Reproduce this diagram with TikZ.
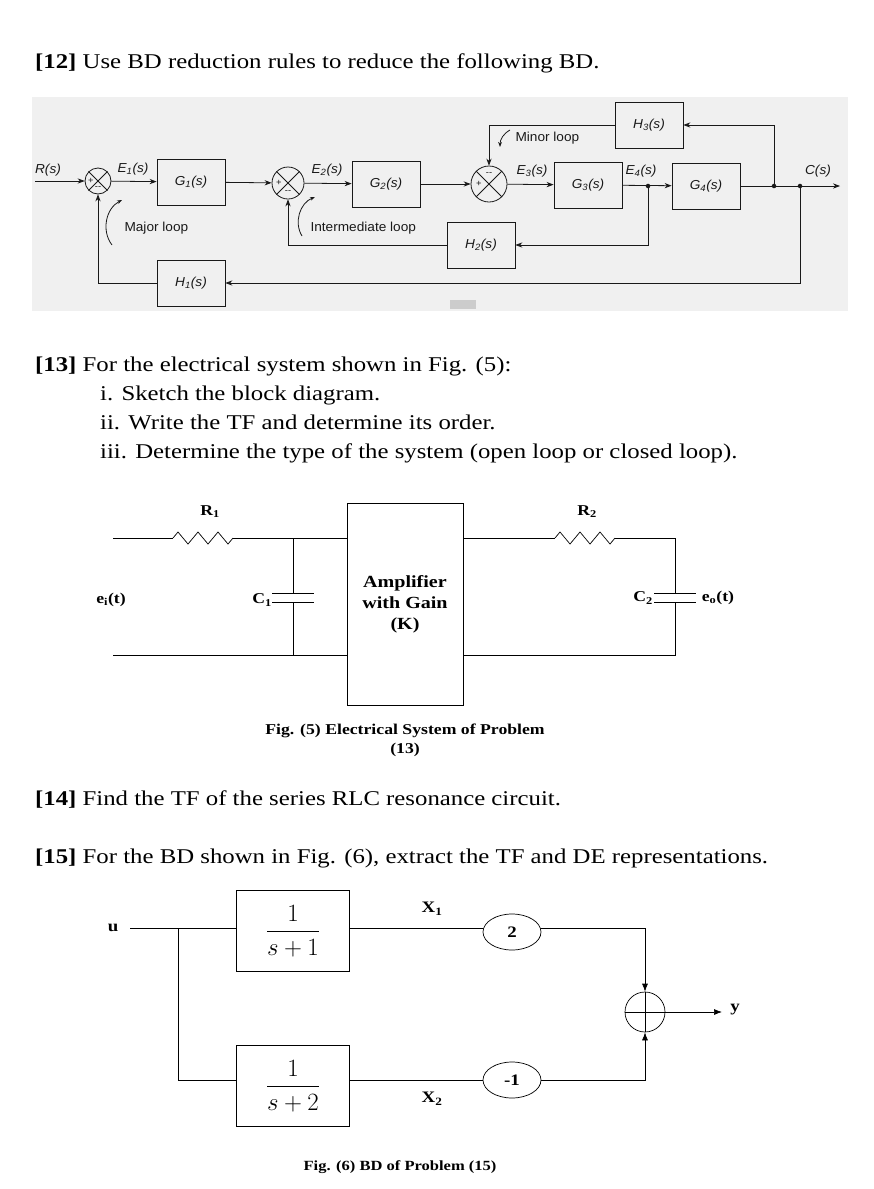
\documentclass[tikz,border=0pt]{standalone}
\usepackage{fontspec}
\setmainfont[FakeStretch=1.18]{Liberation Serif}
\newfontfamily\bdsans[FakeStretch=1.05]{Liberation Sans}
\usepackage{amsmath}
\usetikzlibrary{arrows.meta,positioning,shapes.geometric}
\tikzset{
  blk/.style={draw,thick,minimum width=68pt,minimum height=46pt,font=\bdsans\fontsize{13}{14}\selectfont\itshape},
  sumj/.style={draw,thick,circle,minimum size=30pt,inner sep=0pt},
  lbl/.style={font=\bdsans\fontsize{13}{14}\selectfont\itshape},
  sgn/.style={font=\bdsans\fontsize{9}{9}\selectfont,inner sep=0pt},
  sig/.style={thick,-{Stealth[length=7pt]}},
  dot/.style={circle,fill,inner sep=1.6pt},
  wire/.style={line width=0.7pt},
  cblk/.style={draw,line width=0.8pt,minimum width=113pt,minimum height=81pt},
  txt/.style={font=\fontsize{21}{24}\selectfont,anchor=base west,inner sep=0pt},
}
\newcommand{\zigzag}[3]{% x-start, x-end, y
  \draw[wire] (#1,#3) -- ++(5,-6) -- ++(10,12) -- ++(10,-12) -- ++(10,12) -- ++(10,-12) -- ++(10,12) -- (#2,#3);}
\begin{document}
\begin{tikzpicture}[x=1pt,y=-1pt]
\useasboundingbox (0,0) rectangle (874,1189);
\fill[white] (0,0) rectangle (874,1189);

% problem 12
\node[txt] at (35,68) {\textbf{[12]} Use BD reduction rules to reduce the following BD.};
\fill[gray!12] (32,97) rectangle (848,311);
\begin{scope}[gray!20!black]
\node[sumj,minimum size=26pt] (s1) at (98,181) {};
\node[blk] (g1) at (191,182) {G\textsubscript{1}(s)};
\node[sumj,minimum size=32pt] (s2) at (288,183) {};
\node[blk] (g2) at (386,184) {G\textsubscript{2}(s)};
\node[sumj,minimum size=36pt] (s3) at (489,184) {};
\node[blk] (g3) at (588,185) {G\textsubscript{3}(s)};
\node[blk] (g4) at (706,186) {G\textsubscript{4}(s)};
\node[blk] (h3) at (649,125) {H\textsubscript{3}(s)};
\node[blk] (h2) at (481,245) {H\textsubscript{2}(s)};
\node[blk] (h1) at (191,283) {H\textsubscript{1}(s)};
\foreach \s in {s1,s2,s3}{
  \draw[thick] (\s.north west) -- (\s.south east) (\s.north east) -- (\s.south west);}
\node[sgn] at ([xshift=-7pt]s1.center) {+};
\node[sgn] at ([yshift=-7pt]s1.center) {--};
\node[sgn] at ([xshift=-9pt]s2.center) {+};
\node[sgn] at ([yshift=-9pt]s2.center) {--};
\node[sgn] at ([xshift=-10pt]s3.center) {+};
\node[sgn] at ([yshift=10pt]s3.center) {--};
\coordinate (rin) at (35,181);
\coordinate (j4) at (648,186);
\coordinate (j3) at (774,186);
\coordinate (j1) at (800,186);
\coordinate (cout) at (840,186);
\node[dot] at (j4) {};
\node[dot] at (j3) {};
\node[dot] at (j1) {};
\draw[sig] (rin) -- (s1);
\draw[sig] (s1) -- (g1);
\draw[sig] (g1) -- (s2);
\draw[sig] (s2) -- (g2);
\draw[sig] (g2) -- (s3);
\draw[sig] (s3) -- (g3);
\draw[sig] (g3) -- (g4);
\draw[sig] (g4) -- (cout);
\draw[sig] (j3) |- (h3);
\draw[sig] (h3) -| (s3);
\draw[sig] (j4) |- (h2);
\draw[sig] (h2.west) -| (s2);
\draw[sig] (j1) |- (h1);
\draw[sig] (h1) -| (s1);
\node[lbl] at (48,170) {R(s)};
\node[lbl] at (133,169) {E\textsubscript{1}(s)};
\node[lbl] at (327,170) {E\textsubscript{2}(s)};
\node[lbl] at (532,171) {E\textsubscript{3}(s)};
\node[lbl] at (641,171) {E\textsubscript{4}(s)};
\node[lbl] at (818,171) {C(s)};
\node[lbl,font=\bdsans\fontsize{13}{14}\selectfont,anchor=west] at (121,228) {Major loop};
\node[lbl,font=\bdsans\fontsize{13}{14}\selectfont,anchor=west] at (307,228) {Intermediate loop};
\node[lbl,font=\bdsans\fontsize{13}{14}\selectfont,anchor=west] at (512,138) {Minor loop};
\draw[thick,-{Stealth[length=5pt]}] (112,245) to[bend left=50] (122,200);
\draw[thick,-{Stealth[length=5pt]}] (302,236) to[bend left=50] (315,197);
\draw[thick,-{Stealth[length=5pt]}] (510,130) to[bend right=30] (500,147);
\end{scope}
\fill[gray!40] (450,300) rectangle (476,309);

% problem 13
\node[txt] at (35,371) {\textbf{[13]} For the electrical system shown in Fig. (5):};
\node[txt] at (100,400) {i. Sketch the block diagram.};
\node[txt] at (100,429) {ii. Write the TF and determine its order.};
\node[txt] at (100,458) {iii. Determine the type of the system (open loop or closed loop).};

\node[draw,line width=0.8pt,minimum width=116pt,minimum height=202pt,
      font=\bfseries\fontsize{17}{21}\selectfont,align=center] (amp) at (405,604)
      {Amplifier\\with Gain\\(K)};
\coordinate (a1) at (113,538);
\coordinate (a2) at (113,655);
\zigzag{173}{233}{538}
\draw[wire] (a1) -- (173,538);
\draw[wire] (233,538) -- (amp.west |- a1);
\draw[wire] (a2) -- (amp.west |- a2);
\draw[wire] (293,538) -- (293,593) (272,593) -- (314,593)
            (272,602) -- (314,602) (293,602) -- (293,655);
\zigzag{555}{615}{538}
\draw[wire] (amp.east |- a1) -- (555,538);
\draw[wire] (615,538) -- (675,538) -- (675,593) (654,593) -- (696,593)
            (654,602) -- (696,602) (675,602) -- (675,655) -- (amp.east |- a2);
\begin{scope}[font=\bfseries\fontsize{15}{17}\selectfont]
\node at (210,512) {R\textsubscript{1}};
\node at (587,512) {R\textsubscript{2}};
\node at (262,600) {C\textsubscript{1}};
\node at (643,598) {C\textsubscript{2}};
\node at (111,600) {e\textsubscript{i}(t)};
\node at (718,598) {e\textsubscript{o}(t)};
\end{scope}
\node[font=\bfseries\fontsize{15}{19}\selectfont,align=center] at (405,740)
  {Fig. (5) Electrical System of Problem\\(13)};

% problems 14 and 15
\node[txt] at (35,805) {\textbf{[14]} Find the TF of the series RLC resonance circuit.};
\node[txt] at (35,863) {\textbf{[15]} For the BD shown in Fig. (6), extract the TF and DE representations.};

\node[cblk,font=\fontsize{23}{25}\selectfont] (b1) at (293,931) {$\dfrac{1}{s+1}$};
\node[cblk,font=\fontsize{23}{25}\selectfont] (b2) at (293,1086) {$\dfrac{1}{s+2}$};
\node[draw,wire,ellipse,minimum width=58pt,minimum height=36pt,font=\bfseries\fontsize{16}{18}\selectfont] (k1) at (512,932) {2};
\node[draw,wire,ellipse,minimum width=58pt,minimum height=36pt,font=\bfseries\fontsize{16}{18}\selectfont] (k2) at (512,1080) {-1};
\node[draw,wire,circle,minimum size=40pt,inner sep=0pt] (sy) at (645,1012) {};
\draw[wire] (sy.north) -- (sy.south) (sy.west) -- (sy.east);
\coordinate (uin) at (130,928);
\coordinate (yout) at (722,1012);
\coordinate (br) at (178,928);
\node[font=\bfseries\fontsize{16}{18}\selectfont] at (113,928) {u};
\node[font=\bfseries\fontsize{16}{18}\selectfont] at (735,1010) {y};
\node[font=\bfseries\fontsize{16}{18}\selectfont] at (432,909) {X\textsubscript{1}};
\node[font=\bfseries\fontsize{16}{18}\selectfont] at (432,1099) {X\textsubscript{2}};
\draw[wire] (uin) -- (b1.west |- uin);
\draw[wire] (br) |- (b2.west |- k2);
\draw[wire] (b1.east |- uin) -- (k1.west |- uin);
\draw[wire] (b2.east |- k2) -- (k2);
\draw[wire,-{Latex[length=8pt]}] (k1.east |- uin) -| (sy);
\draw[wire,-{Latex[length=8pt]}] (k2) -| (sy);
\draw[wire,-{Latex[length=8pt]}] (sy) -- (yout);
\node[font=\bfseries\fontsize{14}{16}\selectfont] at (400,1167) {Fig. (6) BD of Problem (15)};
\end{tikzpicture}
\end{document}
